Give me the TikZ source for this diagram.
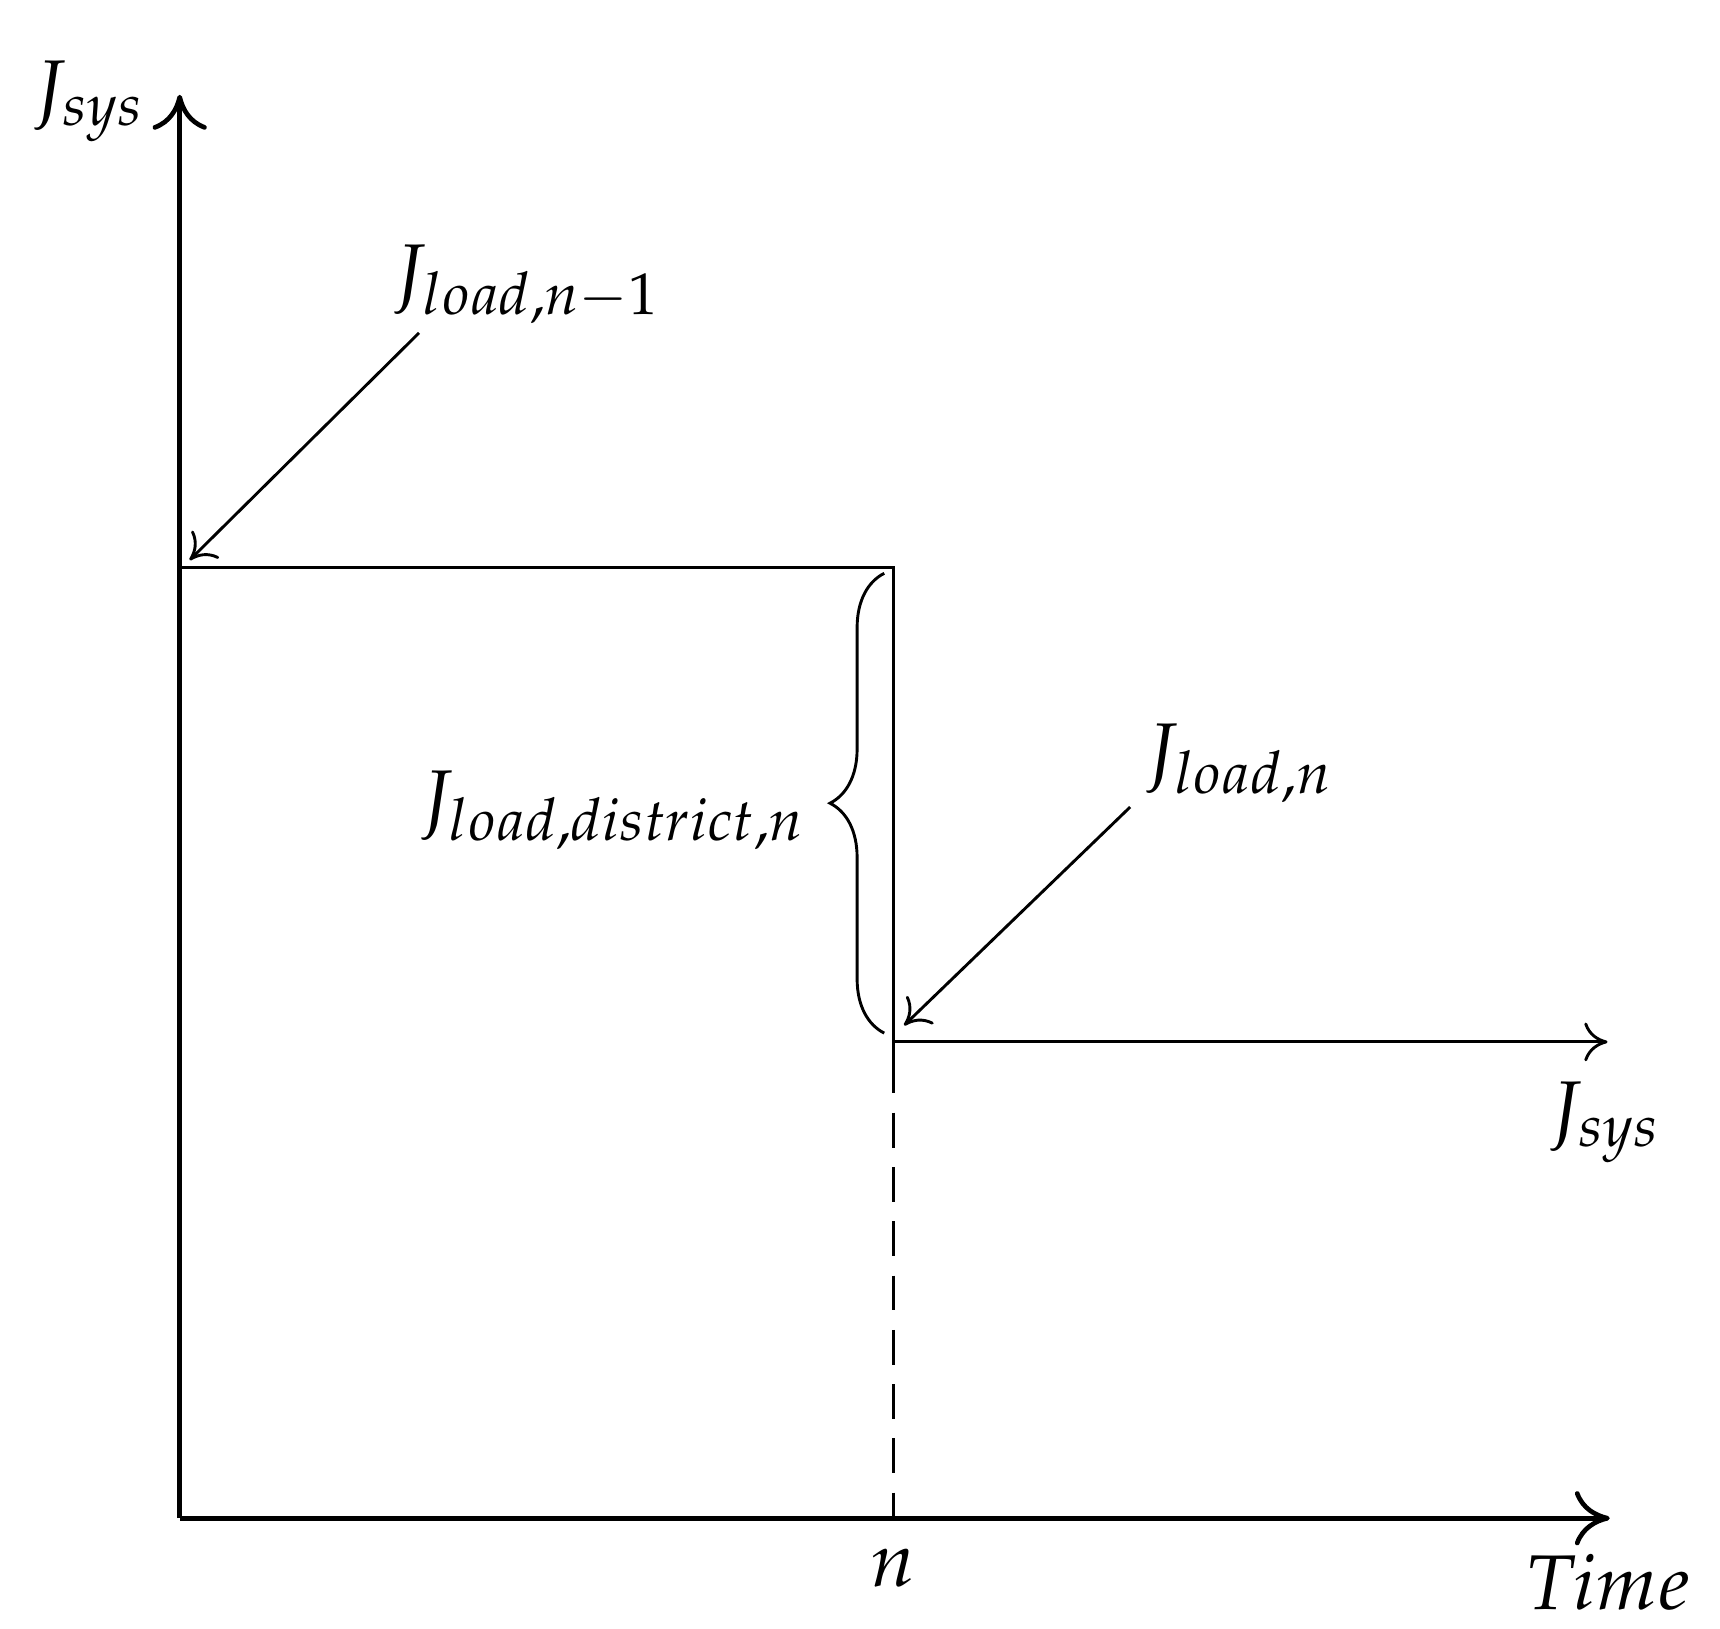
\documentclass[tikz,border=0pt]{standalone}
\usepackage{mathpazo}
\usetikzlibrary{arrows.meta,decorations.pathreplacing}
\begin{document}
\begin{tikzpicture}[x=0.01cm,y=-0.01cm,
  axis/.style={line width=1.2pt,-{To[length=9pt,width=14pt,line width=1.2pt]}},
  thin/.style={line width=0.75pt},
  ptr/.style={line width=0.75pt,-{To[length=6pt,width=10pt]}},
  lbl/.style={font=\fontsize{20}{24}\selectfont,inner sep=0pt}]
\useasboundingbox (0,0) rectangle (1560,1477);
\coordinate (O) at (163,1377);
\coordinate (Ytop) at (163,86);
\coordinate (Xend) at (1460,1377);
\draw[axis] (O) -- (Ytop);
\draw[axis] (O) -- (Xend);
\coordinate (A) at (163,515);
\coordinate (B) at (810,515);
\coordinate (C) at (810,960);
\coordinate (D) at (810,945);
\coordinate (E) at (1458,945);
\draw[thin] (A) -- (B) -- (C);
\draw[thin,-{To[length=6pt,width=10pt]}] (D) -- (E);
\draw[thin,dash pattern=on 9pt off 5pt] (C) -- (810,1377);
\node[lbl] (ylab) at (80,92) {$J_{sys}$};
\node[lbl] (xlab2) at (1455,1018) {$J_{sys}$};
\node[lbl] (tlab) at (1458,1435) {$Time$};
\node[lbl] (nlab) at (810,1422) {$n$};
\node[lbl] (l1) at (477,258) {$J_{load,n-1}$};
\node[lbl] (l2) at (1123,692) {$J_{load,n}$};
\node[lbl] (l3) at (555,735) {$J_{load,district,n}$};
\coordinate (p1s) at (380,302);
\coordinate (p1e) at (172,508);
\coordinate (p2s) at (1025,732);
\coordinate (p2e) at (820,930);
\draw[ptr] (p1s) -- (p1e);
\draw[ptr] (p2s) -- (p2e);
\draw[thin,decorate,decoration={brace,amplitude=14pt}] (802,937) -- (802,520);
\end{tikzpicture}
\end{document}
